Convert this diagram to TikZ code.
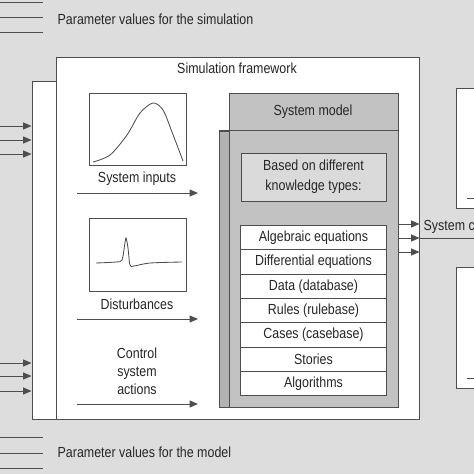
\documentclass[tikz,border=0pt]{standalone}
\usepackage{fontspec}
\setmainfont{Liberation Sans}[FakeStretch=0.85]
\usetikzlibrary{arrows.meta, positioning, fit, calc}
\usepackage{xcolor}
\definecolor{bggray}{RGB}{221,221,221}
\definecolor{mdgray}{RGB}{194,194,194}
\definecolor{stripgray}{RGB}{178,178,178}
\definecolor{kgray}{RGB}{218,218,218}
\definecolor{lgray}{RGB}{78,78,78}
\definecolor{tgray}{RGB}{38,38,38}

\tikzset{
  box/.style={draw=lgray, line width=0.7pt, fill=white, inner sep=0pt},
  lbl/.style={font=\fontsize{10.4}{13}\selectfont, text=tgray, inner sep=1pt},
  flow/.style={draw=lgray, line width=0.7pt, -{Triangle[length=6pt,width=5pt]}},
  rule/.style={draw=lgray, line width=0.7pt}
}

\begin{document}
\begin{tikzpicture}[x=0.025cm, y=-0.025cm]
  \useasboundingbox (0,0) rectangle (474,474);
  \fill[bggray] (0,0) rectangle (474,474);
  \clip (0,0) rectangle (474,474);

  % parameter lines, top and bottom
  \foreach \y in {2,17,32,437,453,468}
    \draw[rule] (0,\y) -- (43,\y);
  \node[lbl, anchor=west] (parsim) at (56,19) {Parameter values for the simulation};
  \node[lbl, anchor=west] (parmod) at (56,452) {Parameter values for the model};

  % framework with the box behind it
  \node[box, fit={(32,81) (400,419)}] (back) {};
  \node[box, fit={(56,57) (419,419)}] (frame) {};
  \node[lbl] (frametitle) at (237,68) {Simulation framework};

  \foreach \y in {126,140,154,363,376,391}
    \draw[flow] (0,\y) coordinate (in\y) -- (back.west |- in\y);

  % signal plots
  \node[box, fit={(89,93) (186,165)}] (inplot) {};
  \draw[rule, line width=0.6pt] plot[smooth] coordinates
    {(93,162) (110,155) (127,135) (140,113) (153,103) (163,110) (172,132) (183,161)};
  \node[box, fit={(89,218) (186,291)}] (distplot) {};
  \draw[rule, line width=0.6pt] plot[smooth, tension=0.5] coordinates
    {(96,263) (116,262) (122,260) (124.5,246) (126,238) (128,248) (130,265) (134,266) (150,263) (182,262)};

  \node[lbl] (inputs) at (137,179) {System inputs};
  \node[lbl] (dist) at (137,304) {Disturbances};
  \node[lbl, align=center, font=\fontsize{10.4}{12.8}\selectfont] (ctrl) at (137,371) {Control\\system\\actions};
  \foreach \y/\n in {193/a,319/b,404/c}
    \draw[flow] (77,\y) coordinate (s\n) -- (198,\y) coordinate (e\n);

  % system model
  \node[box, fill=mdgray, fit={(229,93) (398,407)}] (model) {};
  \node[box, fill=stripgray, fit={(219,131) (229,407)}] (strip) {};
  \draw[rule] (strip.north west) -- (model.east |- strip.north);
  \node[lbl] (modeltitle) at (313,112) {System model};
  \node[box, fill=kgray, fit={(241,153) (386,201)}] (kbox) {};
  \node[lbl, align=center, font=\fontsize{10.4}{14}\selectfont] (ktext) at (kbox.center) {Based on different\\knowledge types:};
  \foreach \t [count=\i] in {Algebraic equations, Differential equations, Data (database),
      Rules (rulebase), Cases (casebase), Stories, Algorithms}
    \node[box, lbl, minimum width=3.625cm, minimum height=0.608cm, anchor=north]
      (k\i) at (313.5,{225+24.3*(\i-1)}) {\t};

  % outputs
  \foreach \y in {224,238,252}
    \draw[flow] (model.east |- 0,\y) -- (frame.east |- 0,\y);
  \draw[rule] (frame.east |- 0,238) -- (474,238);
  \node[lbl, anchor=west] (outputs) at (422,227) {System characteristics};

  \node[box, fit={(456,88) (490,208)}] (outplotA) {};
  \node[box, fit={(456,267) (490,388)}] (outplotB) {};
  \draw[rule] (467,198) -- (474,198);
  \draw[rule] (467,378) -- (474,378);
\end{tikzpicture}
\end{document}
